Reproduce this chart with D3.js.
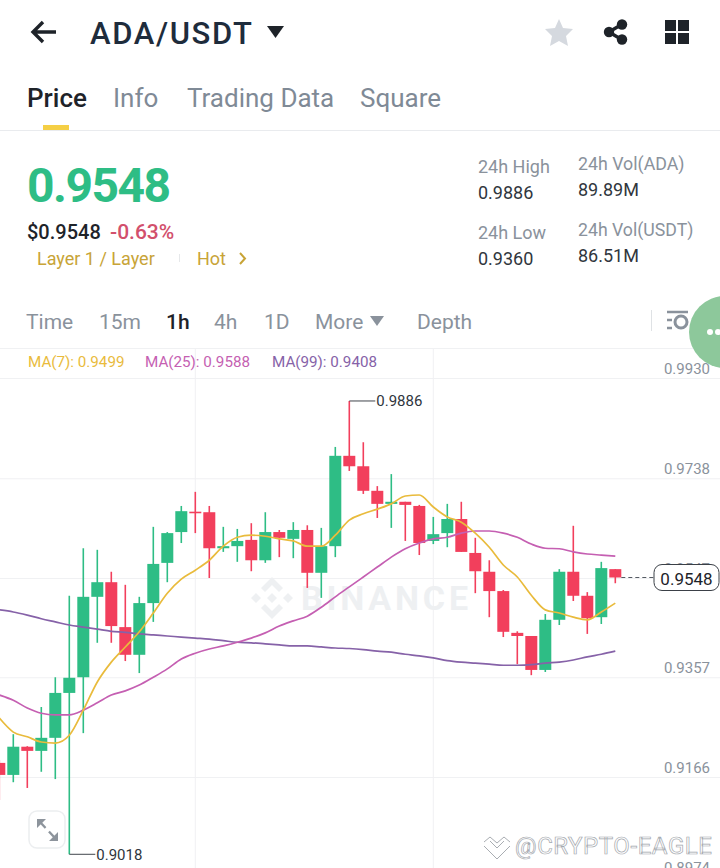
<!DOCTYPE html>
<html>
<head>
<meta charset="utf-8">
<script src="https://cdnjs.cloudflare.com/ajax/libs/d3/7.8.5/d3.min.js"></script>
<style>
body { margin: 0; background: #fff; }
svg { display: block; font-family: Roboto, sans-serif; }
</style>
</head>
<body>
<svg id="chart" width="720" height="868"></svg>
<script>
// candles
const opens = [.9193,.9170,.9224,.9216,.9241,.9327,.9357,.9511,.9539,.9453,.9400,.9499,.9576,.9635,.9674,.9673,.9604,.9608,.9620,.9581,.9635,.9622,.9639,.9557,.9608,.9781,.9761,.9714,.9689,.9693,.9685,.9618,.9633,.9660,.9595,.9559,.9522,.9442,.9436,.9371,.9467,.9559,.9513,.9472,.9564]
const closes = [.9170,.9224,.9216,.9241,.9327,.9356,.9511,.9539,.9455,.9400,.9499,.9574,.9633,.9675,.9671,.9604,.9608,.9618,.9581,.9635,.9624,.9639,.9557,.9608,.9781,.9761,.9714,.9689,.9693,.9687,.9614,.9631,.9660,.9597,.9560,.9522,.9444,.9436,.9371,.9467,.9559,.9513,.9470,.9566,.9548]
const highs = [.9198,.9248,.9225,.9300,.9357,.9513,.9604,.9601,.9559,.9534,.9511,.9645,.9635,.9685,.9712,.9685,.9645,.9641,.9652,.9673,.9639,.9654,.9648,.9643,.9798,.9886,.9807,.9723,.9746,.9693,.9687,.9664,.9689,.9693,.9624,.9581,.9524,.9445,.9436,.9478,.9564,.9647,.9520,.9578,.9564]
const lows = [.9122,.9156,.9145,.9176,.9162,.9018,.9250,.9423,.9423,.9388,.9365,.9463,.9539,.9614,.9633,.9547,.9597,.9578,.9560,.9576,.9587,.9585,.9528,.9509,.9587,.9752,.9708,.9662,.9643,.9618,.9591,.9612,.9606,.9597,.9518,.9472,.9434,.9382,.9361,.9367,.9457,.9503,.9440,.9459,.9537]

const ma7 = [.9279,.9252,.9243,.9233,.9231,.9246,.9294,.9348,.9386,.9415,.9444,.9480,.9518,.9545,.9562,.9581,.9608,.9625,.9629,.9627,.9622,.9618,.9608,.9608,.9629,.9658,.9670,.9679,.9689,.9704,.9706,.9683,.9664,.9654,.9633,.9606,.9572,.9549,.9514,.9486,.9480,.9472,.9467,.9482,.9499]
const ma25 = [.9323,.9313,.9298,.9288,.9285,.9285,.9294,.9308,.9323,.9331,.9342,.9357,.9373,.9392,.9403,.9411,.9417,.9424,.9432,.9442,.9455,.9465,.9474,.9491,.9511,.9530,.9549,.9568,.9587,.9603,.9614,.9622,.9625,.9633,.9637,.9637,.9633,.9625,.9612,.9604,.9603,.9597,.9593,.9591,.9589]
const ma99 = [.9486,.9482,.9476,.9469,.9463,.9457,.9453,.9449,.9445,.9443,.9440,.9438,.9436,.9434,.9432,.9430,.9427,.9424,.9423,.9421,.9419,.9417,.9417,.9415,.9413,.9412,.9410,.9407,.9405,.9401,.9398,.9394,.9389,.9386,.9384,.9382,.9380,.9380,.9381,.9384,.9386,.9390,.9396,.9401,.9407]

const priceTicks = [.9930,.9738,.9547,.9357,.9166,.8974]
const gridCandles = [14,31]
const lastPrice = .9548
const dayHigh = .9886
const dayLow = .9018

const tabs = ["Price","Info","Trading Data","Square"]
const intervals = ["Time","15m","1h","4h","1D","More","Depth"]
const maLegend = ["MA(7): 0.9499","MA(25): 0.9588","MA(99): 0.9408"]

const green = "#2ebd85", red = "#f23f5c"
const yellow = "#e9bb3c", pink = "#c55fb2", purple = "#8662a8"
const dark = "#1e2329", gray = "#8a929c"

const svg = d3.select("#chart")

var txt = (s, x, y, size, color, weight, anchor) => svg.append("text")
    .attr("x", x).attr("y", y).attr("fill", color)
    .attr("font-size", size).attr("font-weight", weight || 400)
    .attr("text-anchor", anchor || "start").text(s)

// top bar
svg.append("path").attr("d", "M56 32H34M43 22L33 32L43 42")
    .attr("fill", "none").attr("stroke", dark).attr("stroke-width", 3.4)
txt("ADA/USDT", 90, 44, 31, "#1e2c3c", 500).attr("textLength", 162)
svg.append("path").attr("d", "M267 26H284L275.5 38Z").attr("fill", dark)
svg.append("path").attr("d", "M559 19L563 28L573 29L566 36L568 46L559 41L550 46L552 36L545 29L555 28Z").attr("fill", "#d5d9df")
svg.append("path").attr("d", "M624 23L609 32L624 41").attr("fill", "none").attr("stroke", dark).attr("stroke-width", 3.4)
svg.selectAll(".share").data([[622,24.5],[609,32],[622,39.5]]).join("circle").attr("class", "share")
    .attr("cx", d => d[0]).attr("cy", d => d[1]).attr("r", 5.2).attr("fill", dark)
svg.selectAll(".panel").data([[665,20],[678,20],[665,33],[678,33]]).join("rect").attr("class", "panel")
    .attr("x", d => d[0]).attr("y", d => d[1]).attr("width", 11).attr("height", 11).attr("fill", dark)

// tabs
const tabX = [27,113,187,360]
tabs.forEach((t, i) => txt(t, tabX[i], 107, 26, i == 0 ? dark : "#7f8a96", i == 0 ? 500 : 400))
svg.append("rect").attr("x", 43).attr("y", 125).attr("width", 26).attr("height", 5).attr("fill", "#f5cf45")
svg.append("rect").attr("x", 0).attr("y", 130).attr("width", 720).attr("height", 1).attr("fill", "#e9ebee")

// price block
txt("0.9548", 27, 202, 48, green, 700).attr("textLength", 144)
txt("$0.9548", 27, 239, 20, dark, 500)
txt("-0.63%", 110, 239, 21, "#d2506c", 500)
txt("Layer 1 / Layer", 37, 265, 18, "#c8a437")
svg.append("rect").attr("x", 179).attr("y", 254).attr("width", 1).attr("height", 8).attr("fill", "#e6e8ea")
txt("Hot", 197, 265, 18, "#c8a437")
svg.append("path").attr("d", "M240 253L245 258.5L240 264").attr("fill", "none").attr("stroke", "#c8a437").attr("stroke-width", 2)
txt("24h High", 478, 173, 18, gray)
txt("0.9886", 478, 199, 18, "#30363d")
txt("24h Low", 478, 239, 18, gray)
txt("0.9360", 478, 265, 18, "#30363d")
txt("24h Vol(ADA)", 578, 170, 17.8, gray)
txt("89.89M", 578, 196, 18, "#30363d")
txt("24h Vol(USDT)", 578, 236, 17.7, gray)
txt("86.51M", 578, 262, 18, "#30363d")

// interval row
const intervalX = [26,99,166,214,264,315,417]
intervals.forEach((t, i) => txt(t, intervalX[i], 329, 21, i == 2 ? dark : gray, i == 2 ? 500 : 400))
svg.append("path").attr("d", "M370 316H384L377 326Z").attr("fill", gray)
svg.append("rect").attr("x", 651).attr("y", 310).attr("width", 1).attr("height", 21).attr("fill", "#dfe2e5")
svg.append("rect").attr("x", 0).attr("y", 348).attr("width", 720).attr("height", 1).attr("fill", "#f0f1f3")

// scales
const x = d3.scaleBand().domain(d3.range(opens.length)).range([-7.7, 622.3])
const y = d3.scaleLinear().domain([.9930, .9166]).range([378, 777])
const cx = i => x(i) + x.bandwidth() / 2

// grid + price labels
const yAxis = d3.axisRight(y).tickValues(priceTicks).tickSize(720).tickFormat(d3.format(".4f"))
svg.append("g").attr("class", "yaxis").call(yAxis)
    .call(g => g.select(".domain").remove())
    .call(g => g.selectAll("line").attr("stroke", "#f0f1f3"))
    .call(g => g.selectAll("text").attr("x", 710).attr("dy", -5).attr("text-anchor", "end")
        .attr("fill", gray).attr("font-size", 15).attr("font-family", "Roboto, sans-serif"))

svg.selectAll(".vgrid").data(gridCandles).join("line").attr("class", "vgrid")
    .attr("x1", d => cx(d)).attr("x2", d => cx(d)).attr("y1", 349).attr("y2", 868)
    .attr("stroke", "#f0f1f3")

// binance watermark
const logo = svg.append("g").attr("transform", "translate(272,598)").attr("fill", "#eef0f2")
logo.append("path").attr("d", "M0-21L11-10L7-6L0-13L-7-6L-11-10ZM0 21L11 10L7 6L0 13L-7 6L-11 10ZM-21 0L-16-5L-11 0L-16 5ZM21 0L16-5L11 0L16 5ZM0-5L5 0L0 5L-5 0Z")
txt("BINANCE", 301, 610, 34, "#eef0f2", 700).attr("textLength", 167)

// candles
const idx = d3.range(opens.length)
const colorOf = i => closes[i] >= opens[i] ? green : red
svg.append("g").selectAll("line").data(idx).join("line")
    .attr("x1", cx).attr("x2", cx)
    .attr("y1", i => y(highs[i])).attr("y2", i => y(lows[i]))
    .attr("stroke", colorOf).attr("stroke-width", 1.6)
svg.append("g").selectAll("rect").data(idx).join("rect")
    .attr("x", i => cx(i) - 6).attr("width", 12)
    .attr("y", i => y(Math.max(opens[i], closes[i])))
    .attr("height", i => Math.max(1.5, Math.abs(y(opens[i]) - y(closes[i]))))
    .attr("fill", colorOf)

// moving averages
const line = d3.line().x((d, i) => cx(i)).y(d => y(d)).curve(d3.curveMonotoneX)
const maSeries = [[ma99, purple], [ma25, pink], [ma7, yellow]]
svg.selectAll(".ma").data(maSeries).join("path").attr("class", "ma")
    .attr("d", d => line(d[0])).attr("fill", "none")
    .attr("stroke", d => d[1]).attr("stroke-width", 1.7)

// high / low callouts
const callout = (i, v) => {
    svg.append("line").attr("x1", cx(i)).attr("x2", cx(i) + 26).attr("y1", y(v)).attr("y2", y(v))
        .attr("stroke", "#40454c").attr("stroke-width", 1)
    txt(d3.format(".4f")(v), cx(i) + 27, y(v) + 5.5, 15, "#30363d")
}
callout(25, dayHigh)
callout(5, dayLow)

// ma legend
const maX = [28,145,272]
const maColor = [yellow, pink, purple]
maLegend.forEach((t, i) => txt(t, maX[i], 367, 15.2, maColor[i]))

// last price tag
svg.append("line").attr("x1", cx(44) + 6).attr("x2", 654).attr("y1", y(lastPrice)).attr("y2", y(lastPrice))
    .attr("stroke", "#555b63").attr("stroke-dasharray", "4 3")
svg.append("rect").attr("x", 654).attr("y", y(lastPrice) - 13).attr("width", 65).attr("height", 26).attr("rx", 8)
    .attr("fill", "#fff").attr("stroke", "#3b4047").attr("stroke-width", 1)
txt(d3.format(".4f")(lastPrice), 686.5, y(lastPrice) + 7, 17, dark, 400, "middle")

// settings icon + floating button
svg.append("path").attr("d", "M667 312H688M667 320H672M667 328H672").attr("stroke", "#8a929c").attr("stroke-width", 2.5).attr("fill", "none")
svg.append("circle").attr("cx", 681).attr("cy", 322).attr("r", 6).attr("fill", "none").attr("stroke", "#8a929c").attr("stroke-width", 3)
svg.append("circle").attr("cx", 725).attr("cy", 332).attr("r", 36).attr("fill", "#8dc89b")
svg.selectAll(".dot").data([710,718]).join("circle").attr("class", "dot")
    .attr("cx", d => d).attr("cy", 332).attr("r", 3).attr("fill", "#fff")

// expand button
svg.append("rect").attr("x", 29).attr("y", 811).attr("width", 36).attr("height", 37).attr("rx", 8)
    .attr("fill", "#fff").attr("stroke", "#eceef0").attr("stroke-width", 1.5)
svg.append("path").attr("d", "M37 819H46L37 828ZM58 841H49L58 832Z").attr("fill", "#8d949c")
svg.append("path").attr("d", "M40 822L55 838").attr("stroke", "#8d949c").attr("stroke-width", 2.4)
svg.append("path").attr("d", "M44 833L50 827").attr("stroke", "#fff").attr("stroke-width", 5)

// corner watermark
const wm = svg.append("g").attr("fill", "none").attr("stroke", "#a9adb2").attr("stroke-width", 1)
wm.append("path").attr("d", "M484 846L497 859L510 846M490 841L497 848L504 841M484 842L490 837L497 843L504 837L510 842")
txt("@CRYPTO-EAGLE", 515, 854, 24, "#fff", 400).attr("stroke", "#a4a8ae").attr("stroke-width", .7).attr("textLength", 197)
</script>
</body>
</html>
